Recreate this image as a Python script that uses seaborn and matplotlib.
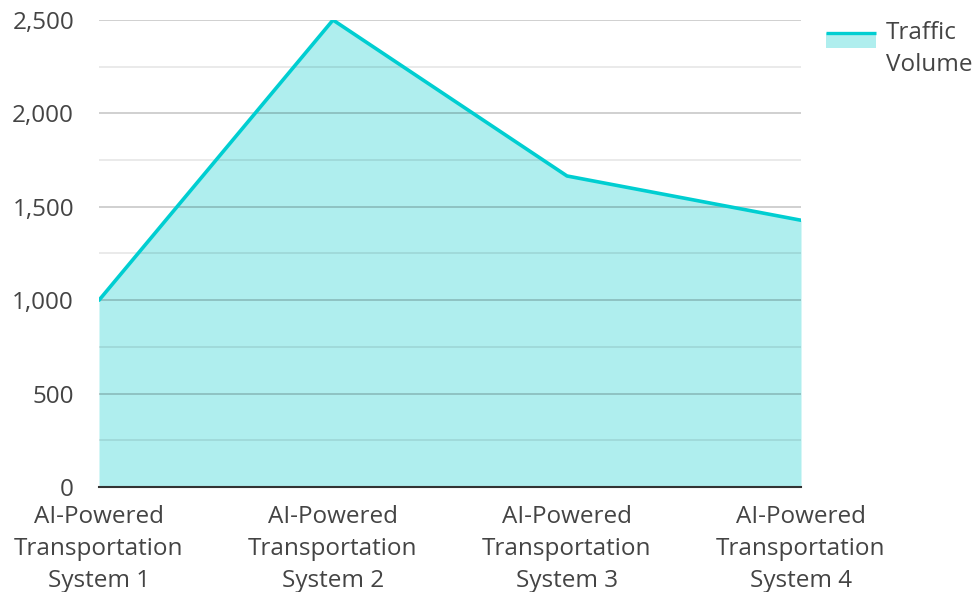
import matplotlib
matplotlib.use("Agg")
import matplotlib.pyplot as plt
import seaborn as sns
import pandas as pd
from matplotlib.patches import Rectangle
from matplotlib.lines import Line2D
from matplotlib.legend_handler import HandlerBase
from matplotlib.ticker import MultipleLocator, FuncFormatter

categories = ["AI-Powered\nTransportation\nSystem 1", "AI-Powered\nTransportation\nSystem 2",
              "AI-Powered\nTransportation\nSystem 3", "AI-Powered\nTransportation\nSystem 4"]
traffic_volume = [1000, 2500, 1665, 1428]
series_name = "Traffic\nVolume"

sns.set_theme(style="white")
plt.rcParams['font.family'] = ['Open Sans', 'DejaVu Sans']

df = pd.DataFrame({"x": range(len(categories)), "y": traffic_volume})

fig = plt.figure(figsize=(9.75, 5.92), dpi=100)
ax = fig.add_axes([99/975, 1-487/592, (801-99)/975, (487-20)/592])

line_color = "#00CED1"
fill_color = "#AFEEEE"
FS = 17.5
LS = 1.45

ax.fill_between(df["x"], df["y"], 0, color=fill_color, linewidth=0, zorder=1)
sns.lineplot(data=df, x="x", y="y", ax=ax, color=line_color, linewidth=2.6, zorder=3)

ax.set_xlim(0, len(categories) - 1)
ax.set_ylim(0, 2500)
ax.yaxis.set_major_locator(MultipleLocator(500))
ax.yaxis.set_minor_locator(MultipleLocator(250))
ax.yaxis.set_major_formatter(FuncFormatter(lambda v, p: f"{int(v):,}"))
ax.set_axisbelow(False)
ax.grid(which="major", axis="y", color="black", alpha=0.2, linewidth=1.3)
ax.grid(which="minor", axis="y", color="black", alpha=0.09, linewidth=1.3)
ax.grid(which="major", axis="x", visible=False)

ax.set_xticks(list(df["x"]))
ax.set_xticklabels(categories, linespacing=LS)
ax.set_xlabel("")
ax.set_ylabel("")
ax.tick_params(axis="both", which="both", length=0, labelsize=FS, labelcolor="#444444")
ax.tick_params(axis="y", pad=18)
ax.tick_params(axis="x", pad=13)

for s in ["left", "right", "top"]:
    ax.spines[s].set_visible(False)
ax.spines["bottom"].set_color("#333333")
ax.spines["bottom"].set_linewidth(1.5)
ax.spines["bottom"].set_zorder(4)


class AreaHandler(HandlerBase):
    def create_artists(self, legend, orig_handle, xdescent, ydescent, width, height, fontsize, trans):
        dy = 0.62 * fontsize
        ytop = height - ydescent + dy * 0.55
        ph = 0.62 * fontsize
        rect = Rectangle((-xdescent, ytop - ph), width, ph, facecolor=fill_color,
                         edgecolor="none", transform=trans)
        ln = Line2D([-xdescent, -xdescent + width], [ytop, ytop], color=line_color,
                    linewidth=2.4, transform=trans, solid_capstyle="butt")
        return [rect, ln]


leg = fig.legend([object()], [series_name], loc="upper left", bbox_to_anchor=(826/975, 1-21/592),
                 frameon=False, fontsize=FS, handlelength=2.05, handletextpad=0.42,
                 borderaxespad=0, borderpad=0,
                 handler_map={object: AreaHandler()})
for t in leg.get_texts():
    t.set_color("#444444")
    t.set_linespacing(LS)

fig.savefig("out.png", dpi=100)
